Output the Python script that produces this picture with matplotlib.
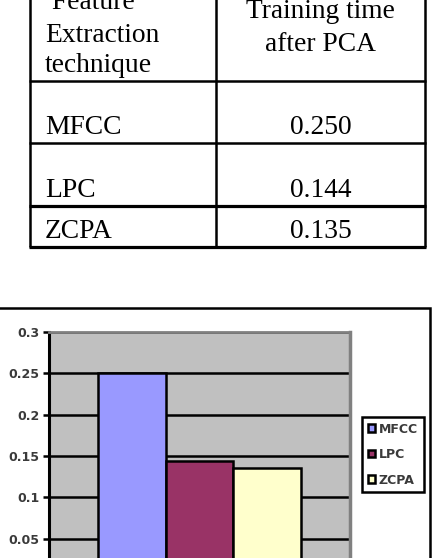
import numpy as np
import matplotlib
matplotlib.use('Agg')
import matplotlib.pyplot as plt
from matplotlib.patches import Rectangle

#data
techniques = ['MFCC', 'LPC', 'ZCPA']
train_time = [0.250, 0.144, 0.135]
bar_colors = ['#9999FF', '#993366', '#FFFFCC']
header_left = [' Feature', 'Extraction', 'technique']
header_right = ['Training time', 'after PCA']
yticks = [0.05, 0.1, 0.15, 0.2, 0.25, 0.3]
ytick_labels = ['0.05', '0.1', '0.15', '0.2', '0.25', '0.3']

W, H = 432, 558
fig = plt.figure(figsize=(W / 100, H / 100), dpi=100)

#overlay axes in pixel coords for the table and the chart frame
pix = fig.add_axes([0, 0, 1, 1])
pix.set_xlim(0, W)
pix.set_ylim(H, 0)
pix.axis('off')
pix.patch.set_alpha(0)

serif = 'Liberation Serif'
fs = 19.8

#table grid
x_l, x_m, x_r = 30, 216, 425
row_lines = [81, 143, 206, 247]
for x in (x_l, x_m, x_r):
    pix.plot([x, x], [-5, 247], color='black', lw=1.8, solid_capstyle='butt')
for i, y in enumerate(row_lines):
    pix.plot([x_l - 1, x_r + 1], [y, y], color='black', lw=2.3 if i >= 2 else 1.8,
             solid_capstyle='butt')

#header text
for y, s in zip([9, 41.5, 72.5], header_left):
    pix.text(45, y, s, family=serif, fontsize=fs, va='baseline', ha='left')
for y, s in zip([18, 51], header_right):
    pix.text((x_m + x_r) / 2, y, s, family=serif, fontsize=fs, va='baseline', ha='center')

#table rows
row_base = [134.5, 197, 237.5]
for y, name, val in zip(row_base, techniques, train_time):
    pix.text(45, y, name, family=serif, fontsize=fs, va='baseline', ha='left')
    pix.text((x_m + x_r) / 2, y, '%.3f' % val, family=serif, fontsize=fs,
             va='baseline', ha='center')

#chart outer frame
pix.add_patch(Rectangle((-10, 308), 440, 300, fill=False, ec='black', lw=1.8,
                        clip_on=False))

#bar chart, plot area from x=49..350, y(0.3)=332, y(0)=580
left, right, top, zero = 49, 350, 332, 580
ax = fig.add_axes([left / W, (H - zero) / H, (right - left) / W, (zero - top) / H])
ax.set_facecolor('#C0C0C0')
ax.set_axisbelow(True)
ax.set_ylim(0, 0.3)
ax.set_xlim(-2.224, 2.224)

offsets = np.arange(len(techniques)) - 1
for off, val, col, name in zip(offsets, train_time, bar_colors, techniques):
    ax.bar(off, val, width=1.0, color=col, edgecolor='black', linewidth=1.8, label=name)

ax.set_yticks(yticks)
ax.set_yticklabels(ytick_labels)
ax.grid(axis='y', color='black', lw=1.8)
ax.set_xticks([])
ax.tick_params(axis='y', length=4.5, width=1.8, pad=2.5, labelsize=9,
               labelcolor='#3a3a3a')
for lbl in ax.get_yticklabels():
    lbl.set_fontweight('bold')

ax.spines['left'].set_color('black')
ax.spines['left'].set_linewidth(2.2)
ax.spines['top'].set_color('#808080')
ax.spines['top'].set_linewidth(2)
ax.spines['right'].set_color('#808080')
ax.spines['right'].set_linewidth(2.5)
ax.spines['bottom'].set_visible(False)

leg = fig.legend(loc='upper left', bbox_to_anchor=(362 / W, 1 - 417 / H),
                 prop={'weight': 'bold', 'size': 9},
                 handlelength=0.55, handleheight=0.55, handletextpad=0.35,
                 labelspacing=1.0, borderpad=0.45, borderaxespad=0,
                 fancybox=False, framealpha=1)
leg.get_frame().set_edgecolor('black')
leg.get_frame().set_linewidth(1.8)
for t in leg.get_texts():
    t.set_color('#3a3a3a')

fig.savefig('out.png', dpi=100)
